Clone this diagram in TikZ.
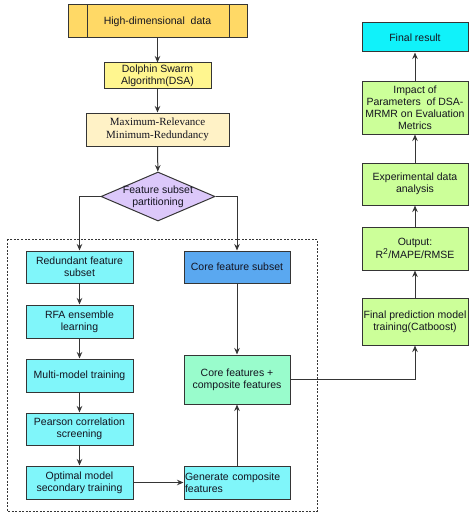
\documentclass[tikz,border=0pt]{standalone}
\usepackage{fontspec}
\setmainfont{Liberation Sans}
\newfontfamily\serifx{Liberation Serif}
\usetikzlibrary{shapes.geometric,arrows.meta}
\definecolor{hdcol}{HTML}{FFD966}
\definecolor{dsacol}{HTML}{FFF68F}
\definecolor{mrcol}{HTML}{FFF2C6}
\definecolor{diacol}{HTML}{DCC8FA}
\definecolor{cyanbox}{HTML}{80F6FA}
\definecolor{corecol}{HTML}{5AA8F0}
\definecolor{cccol}{HTML}{99FCCC}
\definecolor{grcol}{HTML}{CCFF99}
\definecolor{fincol}{HTML}{10F2FA}
\definecolor{linecol}{HTML}{353535}
\definecolor{txtcol}{HTML}{141420}
\tikzset{
  x=1pt, y=-1pt,
  box/.style={draw=linecol, line width=1pt, rectangle, align=center, inner sep=1pt,
    text=txtcol, font=\fontsize{10.5}{12}\selectfont},
  arr/.style={draw=linecol, line width=1pt, -{Stealth[length=6.5pt,width=5.5pt]}},
  ln/.style={draw=linecol, line width=1pt},
}
\begin{document}
\begin{tikzpicture}
\useasboundingbox (0,0) rectangle (474,519);
\fill[white] (0,0) rectangle (474,519);
% dashed region
\draw[linecol, line width=0.9pt, dash pattern=on 2pt off 1.5pt] (7,239) rectangle (317,511);

% top chain
\node[box, fill=hdcol, minimum width=179pt, minimum height=33pt] (hd) at (157.5,21.5) {High-dimensional\ \ data};
\draw[ln] (87,5) -- (87,38) (229,5) -- (229,38);
\node[box, fill=dsacol, minimum width=107pt, minimum height=25pt] (dsa) at (157.5,75.5) {Dolphin Swarm\\Algorithm(DSA)};
\node[box, fill=mrcol, minimum width=143pt, minimum height=33pt, font=\serifx\fontsize{11}{13}\selectfont] (mrmr) at (157.5,129.5) {Maximum-Relevance\\Minimum-Redundancy};
\node[diamond, draw=linecol, line width=1pt, fill=diacol, minimum width=114pt, minimum height=49pt, inner sep=0pt, aspect=2.33, align=center, text=txtcol, font=\fontsize{10.5}{12}\selectfont] (dia) at (158,196.5) {};
\node[align=center, text=txtcol, font=\fontsize{10.5}{12}\selectfont] (dialbl) at (158,196.5) {Feature subset\\partitioning};

% left column
\node[box, fill=cyanbox, minimum width=107pt, minimum height=32pt] (red) at (79.5,267) {Redundant feature\\subset};
\node[box, fill=cyanbox, minimum width=107pt, minimum height=33pt] (rfa) at (79.5,321.5) {RFA ensemble\\learning};
\node[box, fill=cyanbox, minimum width=107pt, minimum height=33pt] (multi) at (79.5,375.5) {Multi-model training};
\node[box, fill=cyanbox, minimum width=107pt, minimum height=32pt] (pear) at (79.5,429) {Pearson correlation\\screening};
\node[box, fill=cyanbox, minimum width=107pt, minimum height=33pt] (opt) at (79.5,482.5) {Optimal model\\secondary training};

% middle column
\node[box, fill=corecol, minimum width=106pt, minimum height=32pt] (core) at (237,267) {Core feature subset};
\node[box, fill=cccol, minimum width=106pt, minimum height=49pt] (cc) at (237,379.5) {Core features +\\composite features};
\node[box, fill=cyanbox, minimum width=106pt, minimum height=33pt, text width=104pt, align=left] (gen) at (237,482.5) {Generate composite\\features};

% right column
\node[box, fill=fincol, minimum width=106pt, minimum height=29pt] (fin) at (415,37.5) {Final result};
\node[box, fill=grcol, minimum width=106pt, minimum height=53pt] (imp) at (415,107.5) {Impact of\\Parameters\ \ of DSA-\\MRMR on Evaluation\\Metrics};
\node[box, fill=grcol, minimum width=106pt, minimum height=42pt] (exp) at (415,184) {Experimental data\\analysis};
\node[box, fill=grcol, minimum width=106pt, minimum height=43pt] (out) at (415,248.5) {Output:\\R\textsuperscript{\fontsize{8.5}{9}\selectfont 2}/MAPE/RMSE};
\node[box, fill=grcol, minimum width=106pt, minimum height=47pt] (fp) at (415,321.5) {Final prediction model\\training(Catboost)};

% connectors
\draw[arr] (hd) -- (dsa);
\draw[arr] (dsa) -- (mrmr);
\draw[arr] (mrmr) -- (dia);
\draw[arr] (dia.west) -| (red.north);
\draw[arr] (dia.east) -| (core.north);
\draw[arr] (red) -- (rfa);
\draw[arr] (rfa) -- (multi);
\draw[arr] (multi) -- (pear);
\draw[arr] (pear) -- (opt);
\draw[arr] (opt) -- (gen);
\draw[arr] (gen) -- (cc);
\draw[arr] (core) -- (cc);
\draw[arr] (cc.east) -| (fp.south);
\draw[arr] (fp) -- (out);
\draw[arr] (out) -- (exp);
\draw[arr] (exp) -- (imp);
\draw[arr] (imp) -- (fin);
\end{tikzpicture}
\end{document}
